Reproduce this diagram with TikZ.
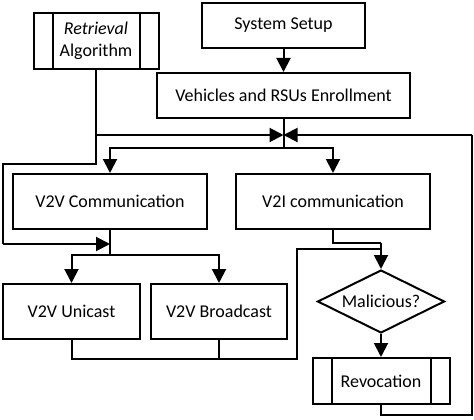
\documentclass[tikz,border=0pt]{standalone}
\usepackage{fontspec}
\setmainfont{Carlito}
\usetikzlibrary{arrows.meta,shapes.geometric,calc}
\begin{document}
\begin{tikzpicture}[x=1pt,y=-1pt,
  every node/.style={font=\fontsize{18}{22}\selectfont},
  box/.style={draw,line width=2pt,rectangle,inner sep=0pt,align=center},
  ln/.style={line width=2pt},
  arr/.style={line width=2pt,-{Triangle[length=14pt,width=14pt]}},
  dec/.style={draw,line width=2pt,diamond,aspect=2,inner sep=0pt,minimum width=127pt,minimum height=63pt}
]
\useasboundingbox (0,0) rectangle (474,420);
\node[box,minimum width=125pt,minimum height=56pt] (ret) at (96,41) {\textit{Retrieval}\\Algorithm};
\draw[ln] ([xshift=20pt]ret.north west) -- ([xshift=20pt]ret.south west);
\draw[ln] ([xshift=-20pt]ret.north east) -- ([xshift=-20pt]ret.south east);
\node[box,minimum width=163pt,minimum height=45pt] (ss) at (283.5,25.5) {System Setup};
\node[box,minimum width=253pt,minimum height=45pt] (veh) at (283.5,95.5) {Vehicles and RSUs Enrollment};
\node[box,minimum width=194pt,minimum height=55pt] (v2v) at (110,201.5) {V2V Communication};
\node[box,minimum width=194pt,minimum height=55pt] (v2i) at (333,201.5) {V2I communication};
\node[box,minimum width=137pt,minimum height=55pt] (uni) at (71.5,311.5) {V2V Unicast};
\node[box,minimum width=136pt,minimum height=55pt] (bro) at (219,311.5) {V2V Broadcast};
\node[dec] (mal) at (381,301.5) {Malicious?};
\node[box,minimum width=137pt,minimum height=46pt] (rev) at (381,381) {Revocation};
\draw[ln] ([xshift=20pt]rev.north west) -- ([xshift=20pt]rev.south west);
\draw[ln] ([xshift=-20pt]rev.north east) -- ([xshift=-20pt]rev.south east);
\coordinate (J) at (283.5,135);
\coordinate (sp) at (283.5,148);
\coordinate (rj) at (96,135);
\coordinate (vj) at (110,244);
\coordinate (bj) at (110,255);
\coordinate (ij) at (381,249);
\coordinate (mj) at (381,243);
\draw[arr] (ss) -- (veh);
\draw[ln] (veh.south) -- (sp);
\draw[arr] (sp) -| (v2v.north);
\draw[arr] (sp) -| (v2i.north);
\draw[ln] (ret.south) -- (96,164) -- (3,164) -- (3,244);
\draw[arr] (3,244) -- (vj);
\draw[arr] (rj) -- (J);
\draw[ln] (v2v.south) -- (bj);
\draw[arr] (bj) -| (uni.north);
\draw[arr] (bj) -| (bro.north);
\draw[ln] (v2i.south) |- (mj);
\draw[arr] (mj) -- (mal.north);
\draw[ln] (uni.south) |- (297,359) |- (ij);
\draw[ln] (bro.south) -- (bro.south |- 0,359);
\draw[arr] (mal.south) -- (rev.north);
\draw[ln] (rev.south) |- (472,415) -- (472,135);
\draw[arr] (472,135) -- (J);
\end{tikzpicture}
\end{document}
